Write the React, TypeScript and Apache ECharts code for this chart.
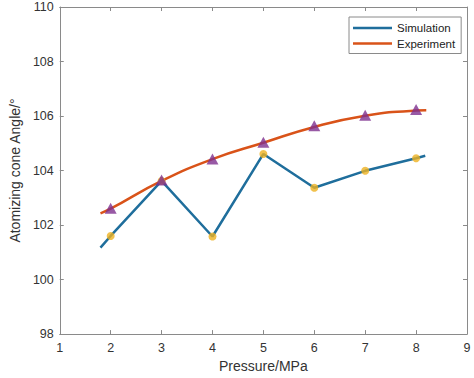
import React, { useEffect, useRef } from "react";
import * as echarts from "echarts";

const xTicks = [1, 2, 3, 4, 5, 6, 7, 8, 9];
const yTicks = [98, 100, 102, 104, 106, 108, 110];

const simLine: [number, number][] = [
  [1.8, 101.17], [2, 101.6], [3, 103.62], [4, 101.58], [5, 104.61],
  [6, 103.37], [7, 103.99], [8, 104.45], [8.18, 104.54],
];
const simPoints: [number, number][] = [
  [2, 101.6], [3, 103.62], [4, 101.58], [5, 104.61], [6, 103.37], [7, 103.99], [8, 104.45],
];
const expLine: [number, number][] = [
  [1.8, 102.43], [2, 102.6], [3, 103.62], [4, 104.42], [5, 105.02],
  [6, 105.6], [7, 106.01], [8, 106.2], [8.2, 106.21],
];
const expPoints: [number, number][] = [
  [2, 102.62], [3, 103.65], [4, 104.42], [5, 105.04], [6, 105.64], [7, 106.03], [8, 106.24],
];

const FONT = "Liberation Sans, Arial, sans-serif";
const AXIS_COLOR = "#8a8a8a";
const TEXT_COLOR = "#333333";
const LINE_ICON = "path://M0,0L39,0L39,2.5L0,2.5Z";

export default function App() {
  const ref = useRef<HTMLDivElement>(null);
  useEffect(() => {
    if (!ref.current) return;
    const chart = echarts.init(ref.current, undefined, { renderer: "svg" });
    const axisLine = { show: true, lineStyle: { color: AXIS_COLOR, width: 1 } };
    const tick = { show: true, inside: true, length: 4, lineStyle: { color: AXIS_COLOR } };
    chart.setOption({
      animation: false,
      backgroundColor: "#ffffff",
      textStyle: { fontFamily: FONT },
      grid: { left: 48, right: 7, top: 7, bottom: 40 },
      legend: {
        data: [
          { name: "Simulation", icon: LINE_ICON },
          { name: "Experiment", icon: LINE_ICON },
        ],
        orient: "vertical",
        left: 349,
        top: 17,
        padding: [4, 6, 3, 4],
        itemGap: 1.5,
        itemWidth: 39,
        itemHeight: 14,
        borderColor: "#8a8a8a",
        borderWidth: 1,
        borderRadius: 0,
        backgroundColor: "#ffffff",
        textStyle: { fontFamily: FONT, fontSize: 11.5, color: "#222", lineHeight: 14 },
      },
      xAxis: [
        {
          type: "value", min: 1, max: 9, interval: 1, position: "bottom",
          axisLine, axisTick: tick, splitLine: { show: false },
          axisLabel: { fontSize: 12.5, color: TEXT_COLOR, margin: 7, fontFamily: FONT },
          name: "Pressure/MPa", nameLocation: "middle", nameGap: 23,
          nameTextStyle: { fontSize: 14, color: TEXT_COLOR, fontFamily: FONT },
        },
        {
          type: "value", min: 1, max: 9, interval: 1, position: "top",
          axisLine, axisTick: tick, splitLine: { show: false }, axisLabel: { show: false },
        },
      ],
      yAxis: [
        {
          type: "value", min: 98, max: 110, interval: 2, position: "left",
          axisLine, axisTick: tick, splitLine: { show: false },
          axisLabel: { fontSize: 12.5, color: TEXT_COLOR, margin: 6, fontFamily: FONT },
          name: "Atomizing cone Angle/°", nameLocation: "middle", nameGap: 33,
          nameTextStyle: { fontSize: 14, color: TEXT_COLOR, fontFamily: FONT },
        },
        {
          type: "value", min: 98, max: 110, interval: 2, position: "right",
          axisLine, axisTick: tick, splitLine: { show: false }, axisLabel: { show: false },
        },
      ],
      series: [
        {
          name: "Experiment", type: "line", data: expLine, smooth: true, showSymbol: false,
          symbol: "none", lineStyle: { color: "#D95319", width: 2.5 }, itemStyle: { color: "#D95319" },
          z: 2,
        },
        {
          name: "Simulation", type: "line", data: simLine, showSymbol: false,
          symbol: "none", lineStyle: { color: "#1f6e9c", width: 2.5 }, itemStyle: { color: "#1f6e9c" },
          z: 3,
        },
        {
          name: "simPts", type: "scatter", data: simPoints, symbol: "circle", symbolSize: 8,
          itemStyle: { color: "#EDB120" }, z: 4,
        },
        {
          name: "expPts", type: "scatter", data: expPoints, symbol: "triangle", symbolSize: [12, 11],
          itemStyle: { color: "#7E2F8E" }, z: 5,
        },
      ],
    });
    return () => chart.dispose();
  }, []);
  return (
    <div
      ref={ref}
      style={{ position: "fixed", left: 0, top: 0, width: 474, height: 378, background: "#fff" }}
    />
  );
}
